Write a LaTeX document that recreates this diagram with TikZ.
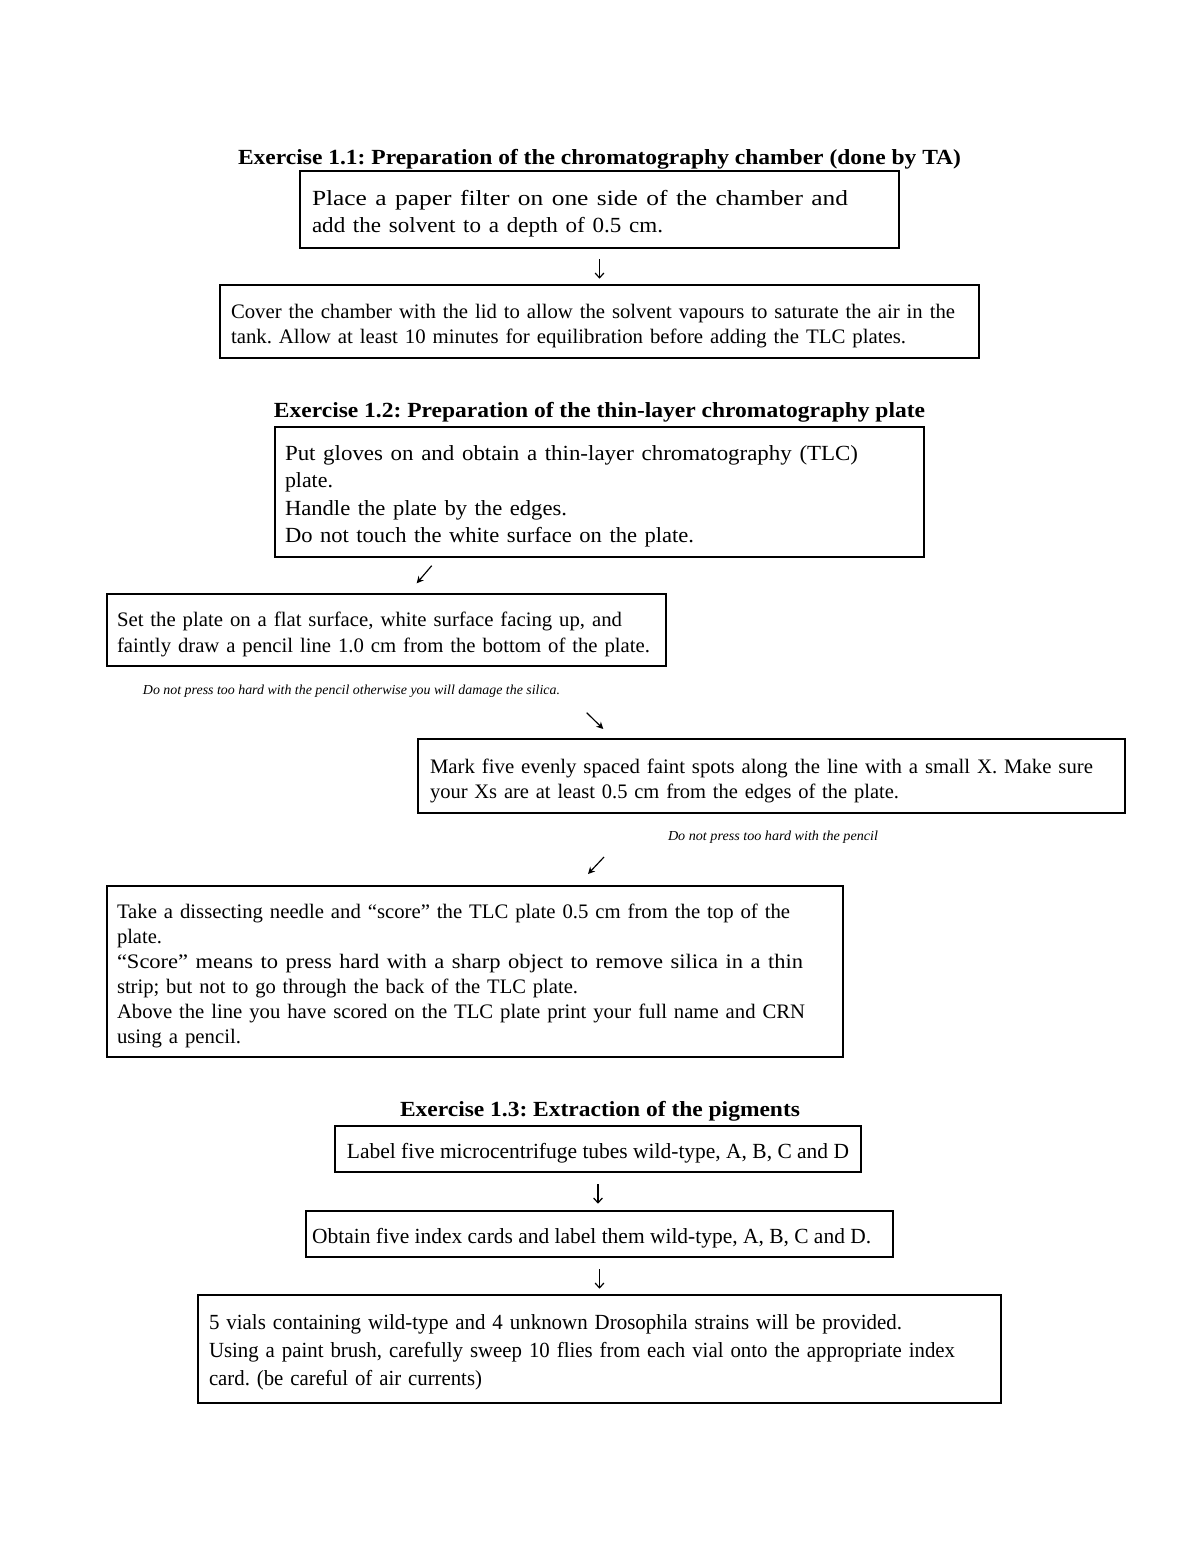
\documentclass[tikz,border=0pt]{standalone}
\usepackage{fontspec}
\setmainfont{Liberation Serif}
\usetikzlibrary{arrows.meta}
\frenchspacing
\newcommand\fl[2]{\resizebox{\dimexpr0.51pt*#1\relax}{\height}{#2}}
\newcommand\tstrut{\rule{0pt}{12pt}}
\begin{document}
\begin{tikzpicture}[x=0.51pt,y=-0.51pt,
  stepbox/.style={draw,line width=1.3pt,rectangle,inner ysep=0pt,align=left},
  titletext/.style={inner sep=0pt,font=\bfseries\fontsize{11}{13}\selectfont},
  notetext/.style={inner sep=0pt,font=\itshape\fontsize{7}{8}\selectfont},
  varr/.style={line width=0.6pt,-{Straight Barb[length=2.5pt,width=4.5pt]}},
  darr/.style={line width=0.6pt,-{Stealth[length=3.5pt,width=3.5pt]}}
]
\useasboundingbox[fill=white] (0,0) rectangle (1200,1553);

% ---------- Exercise 1.1
\node[titletext] (t1) at (599.5,159) {\fl{723}{Exercise 1.1: Preparation of the chromatography chamber (done by TA)}};

\node[stepbox,minimum width={599*0.51pt},minimum height={77*0.51pt},
  text width={575*0.51pt},inner xsep={12*0.51pt},
  font=\fontsize{11}{13.3}\selectfont] (A) at (599.5,209.5)
  {\tstrut\fl{536}{Place a paper filter on one side of the chamber and}\\
   \fl{351}{add the solvent to a depth of 0.5 cm.}};

\node[stepbox,minimum width={759*0.51pt},minimum height={73*0.51pt},
  text width={737*0.51pt},inner xsep={11*0.51pt},
  font=\fontsize{10.5}{12.75}\selectfont] (B) at (599.5,321.5)
  {\tstrut\fl{724}{Cover the chamber with the lid to allow the solvent vapours to saturate the air in the}\\
   \fl{675}{tank. Allow at least 10 minutes for equilibration before adding the TLC plates.}};

\draw[varr,shorten <={10*0.51pt},shorten >={5*0.51pt}] (A.south) -- (B.north);

% ---------- Exercise 1.2
\node[titletext] (t2) at (599.5,412) {\fl{651}{Exercise 1.2: Preparation of the thin-layer chromatography plate}};

\node[stepbox,minimum width={649*0.51pt},minimum height={130*0.51pt},
  text width={629*0.51pt},inner xsep={10*0.51pt},
  font=\fontsize{11}{13.9}\selectfont] (C) at (599.5,492)
  {\tstrut\fl{573}{Put gloves on and obtain a thin-layer chromatography (TLC)}\\
   \fl{48}{plate.}\\
   \fl{282}{Handle the plate by the edges.}\\
   \fl{409}{Do not touch the white surface on the plate.}};

\node[stepbox,minimum width={559*0.51pt},minimum height={72*0.51pt},
  text width={539*0.51pt},inner xsep={10*0.51pt},
  font=\fontsize{10.5}{13.26}\selectfont] (D) at (386.5,630)
  {\tstrut\fl{505}{Set the plate on a flat surface, white surface facing up, and}\\
   \fl{533}{faintly draw a pencil line 1.0 cm from the bottom of the plate.}};

\coordinate (c1a) at (431.7,565.7);
\coordinate (c1b) at (416.7,583.3);
\draw[darr] (c1a) -- (c1b);

\node[notetext] (n1) at (351.5,691) {\fl{417}{Do not press too hard with the pencil otherwise you will damage the silica.}};

\coordinate (c2a) at (586.7,712.7);
\coordinate (c2b) at (603.3,729);
\draw[darr] (c2a) -- (c2b);

\node[stepbox,minimum width={707*0.51pt},minimum height={74*0.51pt},
  text width={683*0.51pt},inner xsep={12*0.51pt},
  font=\fontsize{10.5}{12.75}\selectfont] (E) at (771.5,776)
  {\tstrut\fl{663}{Mark five evenly spaced faint spots along the line with a small X. Make sure}\\
   \fl{469}{your Xs are at least 0.5 cm from the edges of the plate.}};

\node[notetext] (n2) at (773,837) {\fl{210}{Do not press too hard with the pencil}};

\coordinate (c3a) at (604,857);
\coordinate (c3b) at (588,874);
\draw[darr] (c3a) -- (c3b);

\node[stepbox,minimum width={736*0.51pt},minimum height={171*0.51pt},
  text width={716*0.51pt},inner xsep={10*0.51pt},
  font=\fontsize{10.5}{12.75}\selectfont] (F) at (475,971.5)
  {\tstrut\fl{673}{Take a dissecting needle and “score” the TLC plate 0.5 cm from the top of the}\\
   \fl{45}{plate.}\\
   \fl{686}{“Score” means to press hard with a sharp object to remove silica in a thin}\\
   \fl{461}{strip; but not to go through the back of the TLC plate.}\\
   \fl{688}{Above the line you have scored on the TLC plate print your full name and CRN}\\
   \fl{124}{using a pencil.}};

% ---------- Exercise 1.3
\node[titletext] (t3) at (600,1111) {\fl{400}{Exercise 1.3: Extraction of the pigments}};

\node[stepbox,minimum width={526*0.51pt},minimum height={46*0.51pt},
  inner xsep=0pt,align=center,
  font=\fontsize{11}{13.3}\selectfont] (G) at (598,1149)
  {\tstrut\fl{502}{Label five microcentrifuge tubes wild-type, A, B, C and D}};

\node[stepbox,minimum width={587*0.51pt},minimum height={46*0.51pt},
  inner xsep=0pt,align=center,
  font=\fontsize{11}{13.3}\selectfont] (H) at (599.5,1234)
  {\hspace*{-8pt}\tstrut\fl{559}{Obtain five index cards and label them wild-type, A, B, C and D.}};

\node[stepbox,minimum width={803*0.51pt},minimum height={108*0.51pt},
  text width={781*0.51pt},inner xsep={11*0.51pt},
  font=\fontsize{11}{14.5}\selectfont] (I) at (599.5,1349)
  {\rule{0pt}{11pt}\fl{693}{5 vials containing wild-type and 4 unknown Drosophila strains will be provided.}\\
   \fl{746}{Using a paint brush, carefully sweep 10 flies from each vial onto the appropriate index}\\
   \fl{273}{card. (be careful of air currents)}};

\draw[varr,shorten <={11*0.51pt},shorten >={6*0.51pt}] (G.south) -- (G.south |- H.north);
\draw[varr,shorten <={11*0.51pt},shorten >={5*0.51pt}] (H.south) -- (H.south |- I.north);
\end{tikzpicture}
\end{document}
